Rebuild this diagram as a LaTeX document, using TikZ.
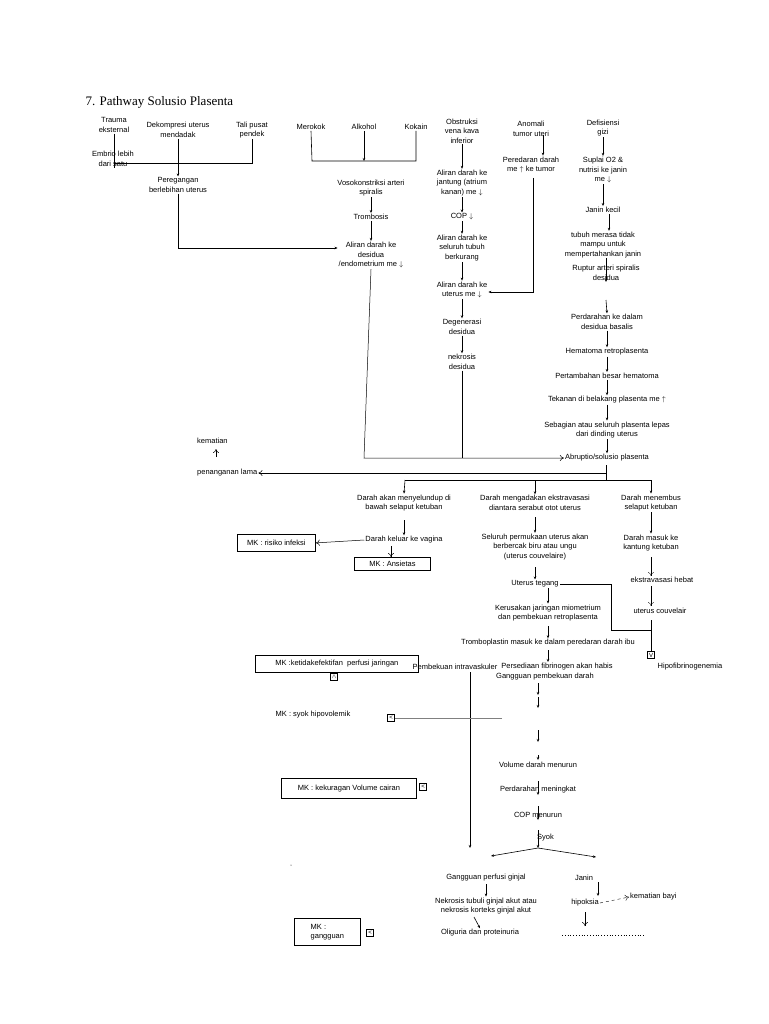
\documentclass[tikz,border=0pt]{standalone}
\usepackage{fontspec}
\setmainfont{Liberation Sans}
\newfontfamily\serifx{Liberation Serif}
\usetikzlibrary{arrows.meta}
\begin{document}
\begin{tikzpicture}[x=1pt,y=-1pt,
 t/.style={align=center,font=\fontsize{7.5}{9.5}\selectfont,inner sep=1pt},
 ar/.style={-{Stealth[length=3pt,width=2.5pt]},line width=0.6pt},
 oa/.style={-{To[length=4pt,width=6pt]},line width=0.5pt},
 ln/.style={line width=0.6pt},
 mk/.style={draw,line width=0.8pt,font=\fontsize{7.5}{9}\selectfont,anchor=north west,align=left,inner sep=1.5pt},
 sq/.style={draw,line width=0.7pt,minimum size=7pt,inner sep=0pt,font=\fontsize{6}{6}\selectfont}]
\useasboundingbox (0,0) rectangle (768,1024);
\node[font=\fontsize{13}{15}\selectfont\serifx, anchor=west] (title) at (82,102) {7. Pathway Solusio Plasenta};
% left top
\node[t] (tr) at (114,125) {Trauma\\eksternal};
\node[t] (dek) at (178,130) {Dekompresi uterus\\mendadak};
\node[t] (tp) at (252,130) {Tali pusat\\pendek};
\node[t] (emb) at (113,159) {Embrio lebih\\dari satu};
\node[t] (per) at (178,185) {Peregangan\\berlebihan uterus};
\coordinate (j1) at (114,163);
\draw[ln] (tr.south) -- (114,168);
\draw[ln] (tp.south) -- (252,163) -- (j1);
\draw[ar] (dek.south) -- (per.north);
% rokok
\node[t] (mer) at (311,127) {Merokok};
\node[t] (alk) at (364,127) {Alkohol};
\node[t] (kok) at (416,127) {Kokain};
\node[t] (vaso) at (371,188) {Vosokonstriksi arteri\\spiralis};
\node[t] (trom) at (371,217) {Trombosis};
\node[t] (ald) at (371,255) {Aliran darah ke\\desidua\\/endometrium me $\downarrow$};
\coordinate (j2) at (364,161);
\draw[ln] (mer.south) -- (312,161) -- (416,161) -- (kok.south);
\draw[ar] (alk.south) -- (j2);
\draw[ar] (vaso.south) -- (trom.north);
\draw[ar] (trom.south) -- (ald.north);
\coordinate (c1) at (178,248);
\draw[ar] (per.south) -- (c1) -- (ald.west|-c1);
% obstruksi
\node[t] (obs) at (462,131) {Obstruksi\\vena kava\\inferior};
\node[t] (alj) at (462,183) {Aliran darah ke\\jantung (atrium\\kanan) me $\downarrow$};
\node[t] (cop) at (462,217) {COP $\downarrow$};
\node[t] (alt) at (462,248) {Aliran darah ke\\seluruh tubuh\\berkurang};
\node[t] (alu) at (462,290) {Aliran darah ke\\uterus me $\downarrow$};
\node[t] (deg) at (462,327) {Degenerasi\\desidua};
\node[t] (nek) at (462,362) {nekrosis\\desidua};
\draw[ar] (obs.south) -- (alj.north);
\draw[ar] (alj.south) -- (cop.north);
\draw[ar] (cop.south) -- (alt.north);
\draw[ar] (alt.south) -- (alu.north);
\draw[ar] (alu.south) -- (deg.north);
\draw[ar] (deg.south) -- (nek.north);
% anomali
\node[t] (ano) at (531,129) {Anomali\\tumor uteri};
\node[t] (pdt) at (531,165) {Peredaran darah\\me $\uparrow$ ke tumor};
\draw[ar] (543,135) -- (543,0 |- pdt.north);
\draw[ar] (533,178) -- (533,292) -- (alu.east|-0,292);
% defisiensi
\node[t] (def) at (603,128) {Defisiensi\\gizi};
\node[t] (sup) at (603,170) {Suplai O2 \&\\nutrisi ke janin\\me $\downarrow$};
\node[t] (jk) at (603,210) {Janin kecil};
\node[t] (tub) at (603,245) {tubuh merasa tidak\\mampu untuk\\mempertahankan janin};
\node[t] (rup) at (606,273) {Ruptur arteri spiralis\\desidua};
\node[t] (pdd) at (607,322) {Perdarahan ke dalam\\desidua basalis};
\node[t] (hem) at (607,352) {Hematoma retroplasenta};
\node[t] (ptb) at (607,376) {Pertambahan besar hematoma};
\node[t] (tek) at (607,400) {Tekanan di belakang plasenta me $\uparrow$};
\node[t] (seb) at (607,430) {Sebagian atau seluruh plasenta lepas\\dari dinding uterus};
\node[t] (abr) at (607,458) {Abruptio/solusio plasenta};
\draw[ar] (def.south) -- (sup.north);
\draw[ar] (sup.south) -- (jk.north);
\draw[ar] (609,0 |- jk.south) -- (609,0 |- tub.north);
\draw[ar] (606,258) -- (606,282);
\draw[ar] (606,300) -- (pdd.north);
\draw[ar] (pdd.south) -- (hem.north);
\draw[ar] (hem.south) -- (ptb.north);
\draw[ar] (ptb.south) -- (tek.north);
\draw[ar] (tek.south) -- (seb.north);
\draw[ar] (seb.south) -- (abr.north);
% to abruptio
\draw[ln] (nek.south) -- (462,458);
\draw[oa] (ald.south) -- (364,458) -- (abr.west);
% penanganan
\node[t,anchor=west] (pen) at (196,473) {penanganan lama};
\node[t,anchor=west] (kem) at (196,441) {kematian};
\draw[oa] (216,457) -- (216,449);
\draw[oa] (606,465) -- (606,473) -- (pen.east);
% three branches
\coordinate (b1) at (405,480);
\coordinate (b3) at (651,480);
\draw[ln] (b1) -- (b3);
\draw[ln] (606,473) -- (606,480);
\node[t] (dm1) at (404,503) {Darah akan menyelundup di\\bawah selaput ketuban};
\node[t] (dm2) at (535,503) {Darah mengadakan ekstravasasi\\diantara serabut otot uterus};
\node[t] (dm3) at (651,503) {Darah menembus\\selaput ketuban};
\draw[ar] (b1) -- (dm1.north);
\draw[ar] (535,480) -- (dm2.north);
\draw[ar] (b3) -- (dm3.north);
\node[t] (vag) at (404,540) {Darah keluar ke vagina};
\draw[ar] (404,520) -- (vag.north);
\node[mk,minimum width=78pt,minimum height=17pt] (mki) at (237,534) {MK : risiko infeksi};
\draw[oa] (vag.west) -- (mki.east);
\node[mk,minimum width=76pt,minimum height=13pt] (mka) at (354,557) {MK : Ansietas};
\draw[oa] (391,546) -- (391,557);
\node[t] (sel) at (535,547) {Seluruh permukaan uterus akan\\berbercak biru atau ungu\\(uterus couvelaire)};
\draw[ar] (535,517) -- (sel.north);
\node[t] (ute) at (535,584) {Uterus tegang};
\draw[ar] (535,567) -- (ute.north);
\node[t] (ker) at (548,613) {Kerusakan jaringan miometrium\\dan pembekuan retroplasenta};
\draw[ar] (548,588) -- (ker.north);
\node[t] (tro) at (548,643) {Tromboplastin masuk ke dalam peredaran darah ibu};
\draw[ar] (548,626) -- (tro.north);
\node[t] (mas) at (651,543) {Darah masuk ke\\kantung ketuban};
\draw[ar] (dm3.south) -- (mas.north);
\node[t] (eks) at (662,580) {ekstravasasi hebat};
\draw[oa,line width=0.3pt] (651,557) -- (651,576);
\node[t] (cou) at (660,611) {uterus couvelair};
\draw[oa,line width=0.3pt] (651,586) -- (651,606);
\node[sq] (sqv) at (651,655) {V};
\draw[ln] (651,620) -- (sqv.north);
\draw[ln] (ute.east) -- (611,584) -- (611,630) -- (651,630);
% fibrinogen row
\node[t] (pi) at (455,667) {Pembekuan intravaskuler};
\node[t] (pf) at (557,667) {Persediaan fibrinogen akan habis};
\node[t] (hip) at (690,667) {Hipofibrinogenemia};
\node[t] (gpd) at (545,677) {Gangguan pembekuan darah};
\draw[ar] (548,650) -- (548,662);
\node[mk,minimum width=163pt,minimum height=17pt] (mkp) at (255,655) {MK :ketidakefektifan\ \ perfusi jaringan};
\node[sq] (sqp) at (334,677) {$\wedge$};
\draw[ar] (470,672) -- (470,848);
\draw[ar] (538,683) -- (538,695);
\draw[ar] (538,697) -- (538,708);
\draw[ar] (538,730) -- (538,742);
\draw[ar] (538,755) -- (538,760);
\node[t] (syh) at (313,715) {MK : syok hipovolemik};
\node[sq] (sqs) at (391,718) {<};
\draw[ln,gray] (502,718) -- (sqs.east);
\node[t] (vol) at (538,765) {Volume darah menurun};
\node[t] (pdm) at (538,790) {Perdarahan meningkat};
\node[t] (copm) at (538,815) {COP menurun};
\node[t,anchor=west] (syo) at (536,838) {Syok};
\draw[ar] (538,781) -- (538,795);
\draw[ar] (538,806) -- (538,820);
\draw[ar] (538,830) -- (538,848);
\coordinate (sy) at (538,848);
\draw[ar] (sy) -- (491,856);
\draw[ar] (sy) -- (596,857);
\node[mk,minimum width=135pt,minimum height=20pt] (mkc) at (281,778) {MK : kekuragan Volume cairan};
\node[sq] (sqc) at (423,787) {<};
% bottom
\node[t] (ggi) at (486,878) {Gangguan perfusi ginjal};
\node[t] (ntg) at (486,906) {Nekrosis tubuli ginjal akut atau\\nekrosis korteks ginjal akut};
\node[t] (oli) at (480,933) {Oliguria dan proteinuria};
\draw[ar] (486,884) -- (ntg.north);
\draw[ar] (474,917) -- (oli.north);
\node[t] (jan) at (584,878) {Janin};
\node[t] (hps) at (585,903) {hipoksia};
\node[t,anchor=west] (kb) at (629,897) {kematian bayi};
\draw[ar] (598,882) -- (598,896);
\draw[oa,dashed,line width=0.4pt] (hps.east) -- (kb.west);
\draw[oa] (585,912) -- (585,926);
\draw[dotted,line width=0.8pt] (562,935) -- (645,935);
\node[mk,minimum width=66pt,minimum height=27pt] (mkg) at (294,918) {MK :\\gangguan};
\node[sq] (sqg) at (370,933) {<};
\fill (291,865) circle (0.5pt);
\end{tikzpicture}
\end{document}
